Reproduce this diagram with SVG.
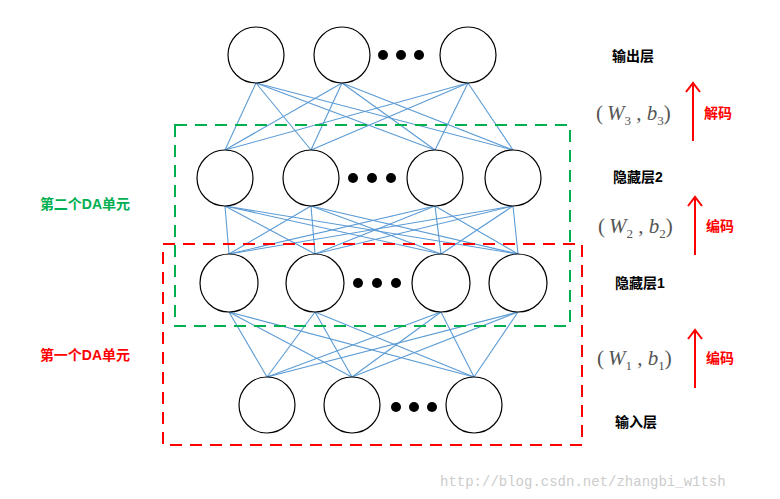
<svg xmlns="http://www.w3.org/2000/svg" width="780" height="499" viewBox="0 0 780 499">
<style>
.n{fill:#fff;stroke:#000;stroke-width:1.2}
.c line{stroke:#5b9bd5;stroke-width:1.1}
.lb{font-family:"Liberation Sans","Noto Sans CJK SC",sans-serif;font-weight:bold;font-size:14px}
.f{font-family:"Liberation Serif",serif;font-style:italic;font-size:21px;fill:#555}
.fs{font-size:13px;font-style:normal}
.p{font-family:"Liberation Serif",serif;font-size:21px;fill:#555}
.ar{stroke:#f00;stroke-width:2;fill:none}
</style>
<rect width="780" height="499" fill="#fff"/>
<g class="c" id="connectors">
<line x1="256" y1="83" x2="225" y2="150"/><line x1="256" y1="83" x2="311" y2="150"/><line x1="256" y1="83" x2="435" y2="150"/><line x1="256" y1="83" x2="513" y2="150"/>
<line x1="342" y1="83" x2="225" y2="150"/><line x1="342" y1="83" x2="311" y2="150"/><line x1="342" y1="83" x2="435" y2="150"/><line x1="342" y1="83" x2="513" y2="150"/>
<line x1="468" y1="83" x2="225" y2="150"/><line x1="468" y1="83" x2="311" y2="150"/><line x1="468" y1="83" x2="435" y2="150"/><line x1="468" y1="83" x2="513" y2="150"/>
<line x1="225" y1="206" x2="229" y2="254"/><line x1="225" y1="206" x2="315" y2="254"/><line x1="225" y1="206" x2="441" y2="254"/><line x1="225" y1="206" x2="518" y2="254"/>
<line x1="311" y1="206" x2="229" y2="254"/><line x1="311" y1="206" x2="315" y2="254"/><line x1="311" y1="206" x2="441" y2="254"/><line x1="311" y1="206" x2="518" y2="254"/>
<line x1="435" y1="206" x2="229" y2="254"/><line x1="435" y1="206" x2="315" y2="254"/><line x1="435" y1="206" x2="441" y2="254"/><line x1="435" y1="206" x2="518" y2="254"/>
<line x1="513" y1="206" x2="229" y2="254"/><line x1="513" y1="206" x2="315" y2="254"/><line x1="513" y1="206" x2="441" y2="254"/><line x1="513" y1="206" x2="518" y2="254"/>
<line x1="229" y1="312" x2="267" y2="377"/><line x1="229" y1="312" x2="352" y2="377"/><line x1="229" y1="312" x2="474" y2="377"/>
<line x1="315" y1="312" x2="267" y2="377"/><line x1="315" y1="312" x2="352" y2="377"/><line x1="315" y1="312" x2="474" y2="377"/>
<line x1="441" y1="312" x2="267" y2="377"/><line x1="441" y1="312" x2="352" y2="377"/><line x1="441" y1="312" x2="474" y2="377"/>
<line x1="518" y1="312" x2="267" y2="377"/><line x1="518" y1="312" x2="352" y2="377"/><line x1="518" y1="312" x2="474" y2="377"/>
</g>
<g id="out"><circle class="n" cx="256" cy="55" r="28"/><circle class="n" cx="342" cy="55" r="28"/><circle class="n" cx="468" cy="55" r="28"/>
<circle cx="383" cy="55" r="5"/><circle cx="401" cy="55" r="5"/><circle cx="419" cy="55" r="5"/></g>
<g id="h2"><circle class="n" cx="225" cy="178" r="28"/><circle class="n" cx="311" cy="178" r="28"/><circle class="n" cx="435" cy="178" r="28"/><circle class="n" cx="513" cy="178" r="28"/>
<circle cx="353" cy="178" r="5"/><circle cx="372" cy="178" r="5"/><circle cx="391" cy="178" r="5"/></g>
<g id="h1"><circle class="n" cx="229" cy="283" r="29"/><circle class="n" cx="315" cy="283" r="29"/><circle class="n" cx="441" cy="283" r="29"/><circle class="n" cx="518" cy="283" r="29"/>
<circle cx="358" cy="283" r="5"/><circle cx="377" cy="283" r="5"/><circle cx="396" cy="283" r="5"/></g>
<g id="in"><circle class="n" cx="267" cy="405" r="28"/><circle class="n" cx="352" cy="405" r="28"/><circle class="n" cx="474" cy="405" r="28"/>
<circle cx="396" cy="407" r="5"/><circle cx="414" cy="407" r="5"/><circle cx="432" cy="407" r="5"/></g>
<g id="boxes" fill="none" stroke-width="2" stroke-dasharray="12,8">
<rect x="175" y="125" width="395" height="201" stroke="#00b050"/>
<rect x="163" y="244" width="419" height="201" stroke="#f00"/>
</g>
<g id="labels">
<text class="lb" x="85" y="209" fill="#00b050" text-anchor="middle">第二个DA单元</text>
<text class="lb" x="85" y="360" fill="#f00" text-anchor="middle">第一个DA单元</text>
<text class="lb" x="633" y="61" text-anchor="middle">输出层</text>
<text class="lb" x="638" y="182" text-anchor="middle">隐藏层2</text>
<text class="lb" x="640" y="288" text-anchor="middle">隐藏层1</text>
<text class="lb" x="636" y="427" text-anchor="middle">输入层</text>
<text class="lb" x="718" y="118" fill="#f00" text-anchor="middle">解码</text>
<text class="lb" x="720" y="231" fill="#f00" text-anchor="middle">编码</text>
<text class="lb" x="720" y="363" fill="#f00" text-anchor="middle">编码</text>
</g>
<g id="formulas">
<text x="596" y="120"><tspan class="p">(</tspan><tspan class="f" dx="4">W</tspan><tspan class="f fs" dy="5">3</tspan><tspan class="p" dy="-5"> , </tspan><tspan class="f">b</tspan><tspan class="f fs" dy="5">3</tspan><tspan class="p" dy="-5">)</tspan></text>
<text x="598" y="233"><tspan class="p">(</tspan><tspan class="f" dx="4">W</tspan><tspan class="f fs" dy="5">2</tspan><tspan class="p" dy="-5"> , </tspan><tspan class="f">b</tspan><tspan class="f fs" dy="5">2</tspan><tspan class="p" dy="-5">)</tspan></text>
<text x="597" y="365"><tspan class="p">(</tspan><tspan class="f" dx="4">W</tspan><tspan class="f fs" dy="5">1</tspan><tspan class="p" dy="-5"> , </tspan><tspan class="f">b</tspan><tspan class="f fs" dy="5">1</tspan><tspan class="p" dy="-5">)</tspan></text>
</g>
<g id="arrows" class="ar">
<path d="M693,141V83M686,92L693,83L700,92"/>
<path d="M695,255V197M688,206L695,197L702,206"/>
<path d="M695,388V330M688,339L695,330L702,339"/>
</g>
<text x="440" y="486" font-family="Liberation Mono,monospace" font-size="14" fill="#ccc">http://blog.csdn.net/zhangbi_w1tsh</text>
</svg>
